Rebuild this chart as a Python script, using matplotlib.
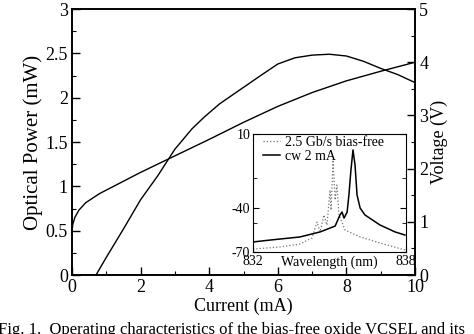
import matplotlib
matplotlib.use('Agg')
import matplotlib.pyplot as plt
import numpy as np
from matplotlib.ticker import MultipleLocator, FixedLocator, FormatStrFormatter

plt.rcParams['font.family'] = ['Liberation Serif', 'DejaVu Serif']
plt.rcParams['axes.unicode_minus'] = False

# --- main L-I-V data ---
current_LI = [0.7, 1.0, 1.5, 2.0, 2.5, 3.0, 3.5, 3.85, 4.3, 4.9, 5.5, 6.0,
              6.5, 7.0, 7.5, 8.0, 8.5, 9.0, 9.5, 10.0]
power_mW = [0.0, 0.2, 0.52, 0.85, 1.12, 1.42, 1.65, 1.78, 1.93, 2.09, 2.25,
            2.38, 2.45, 2.48, 2.49, 2.47, 2.41, 2.33, 2.26, 2.17]

current_V = [0.0, 0.02, 0.08, 0.2, 0.4, 0.8, 1.4, 2.0, 3.0, 4.0, 5.0, 6.0,
             7.0, 8.0, 9.0, 10.0]
voltage_V = [0.8, 0.95, 1.08, 1.22, 1.36, 1.53, 1.73, 1.93, 2.24, 2.55, 2.87,
             3.17, 3.43, 3.65, 3.83, 4.0]

# --- inset spectra ---
wl_cw = [832.0, 832.67, 833.84, 834.63, 835.22, 835.41, 835.49, 835.57,
         835.69, 835.76, 835.84, 835.92, 836.0, 836.08, 836.2, 836.39,
         836.98, 837.57, 837.96]
spec_cw = [-63.2, -61.9, -59.8, -56.4, -52.4, -44.9, -42.9, -47.0, -42.9,
           -31.4, -14.4, -0.8, -11.0, -31.4, -40.2, -44.9, -51.7, -56.4, -58.5]

wl_mod = [832.0, 833.06, 833.84, 834.31, 834.51, 834.63, 834.78, 834.9,
          835.02, 835.06, 835.14, 835.22, 835.29, 835.37, 835.61, 836.2,
          836.98, 837.96]
spec_mod = [-68.0, -66.6, -64.6, -60.5, -49.7, -56.4, -44.9, -51.7, -28.0,
            -41.6, -7.6, -34.7, -24.6, -44.9, -55.1, -59.8, -63.9, -68.6]

caption = 'Fig. 1.  Operating characteristics of the bias-free oxide VCSEL and its'

fig = plt.figure(figsize=(4.74, 3.34), dpi=100)
ax = fig.add_axes([0.152, 0.1766, 0.7236, 0.7964])
ax2 = ax.twinx()

ax.plot(current_LI, power_mW, color='k', lw=1.0)
ax2.plot(current_V, voltage_V, color='k', lw=1.0)

ax.set_xlim(0, 10)
ax.set_ylim(0, 3)
ax2.set_ylim(0, 5)

ax.xaxis.set_major_locator(MultipleLocator(2))
ax.xaxis.set_minor_locator(MultipleLocator(1))
ax.yaxis.set_major_locator(MultipleLocator(0.5))
ax.yaxis.set_minor_locator(MultipleLocator(0.25))
ax.yaxis.set_major_formatter(FormatStrFormatter('%g'))
ax2.yaxis.set_major_locator(MultipleLocator(1))
ax2.yaxis.set_minor_locator(MultipleLocator(0.5))

ax.tick_params(which='both', direction='in', top=False, right=False,
               labelsize=13, pad=3)
ax.tick_params(which='major', length=6, width=1)
ax.tick_params(which='minor', length=3, width=0.8)
ax2.tick_params(which='both', direction='in', labelsize=13, pad=3)
ax2.tick_params(which='major', length=6, width=1)
ax2.tick_params(which='minor', length=3, width=0.8)

for sp in ax.spines.values():
    sp.set_linewidth(1.2)
for sp in ax2.spines.values():
    sp.set_linewidth(1.2)

ax.set_xlabel('Current (mA)', fontsize=13, labelpad=1)
ax.set_ylabel('Optical Power (mW)', fontsize=15, labelpad=2)
ax2.set_ylabel('Voltage (V)', fontsize=13, labelpad=2)

# inset: optical spectra
axi = fig.add_axes([0.5338, 0.2455, 0.3228, 0.3533])
axi.set_facecolor('white')
axi.plot(wl_mod, spec_mod, color='0.45', lw=0.9, ls=':',
         label='2.5 Gb/s bias-free')
axi.plot(wl_cw, spec_cw, color='k', lw=1.1, label='cw 2 mA')
axi.set_xlim(832, 838)
axi.set_ylim(-70, 10)
axi.set_xticks([832, 838])
axi.set_yticks([10, -40, -70])
axi.yaxis.set_minor_locator(FixedLocator([-20, -50]))
axi.tick_params(which='both', direction='in', labelsize=10, pad=2,
                right=True)
axi.tick_params(which='major', length=4)
axi.tick_params(which='minor', length=3)
axi.set_xlabel('Wavelength (nm)', fontsize=10)
axi.xaxis.set_label_coords(0.5, -0.03)
for sp in axi.spines.values():
    sp.set_linewidth(0.8)
axi.legend(loc='upper left', fontsize=10, frameon=False, handlelength=1.2,
           handletextpad=0.4, borderaxespad=0.1, labelspacing=0.05,
           bbox_to_anchor=(0.02, 1.04))

fig.text(-0.005, 0.035, caption, fontsize=12, va='top', ha='left')

fig.savefig('out.png', dpi=100)
